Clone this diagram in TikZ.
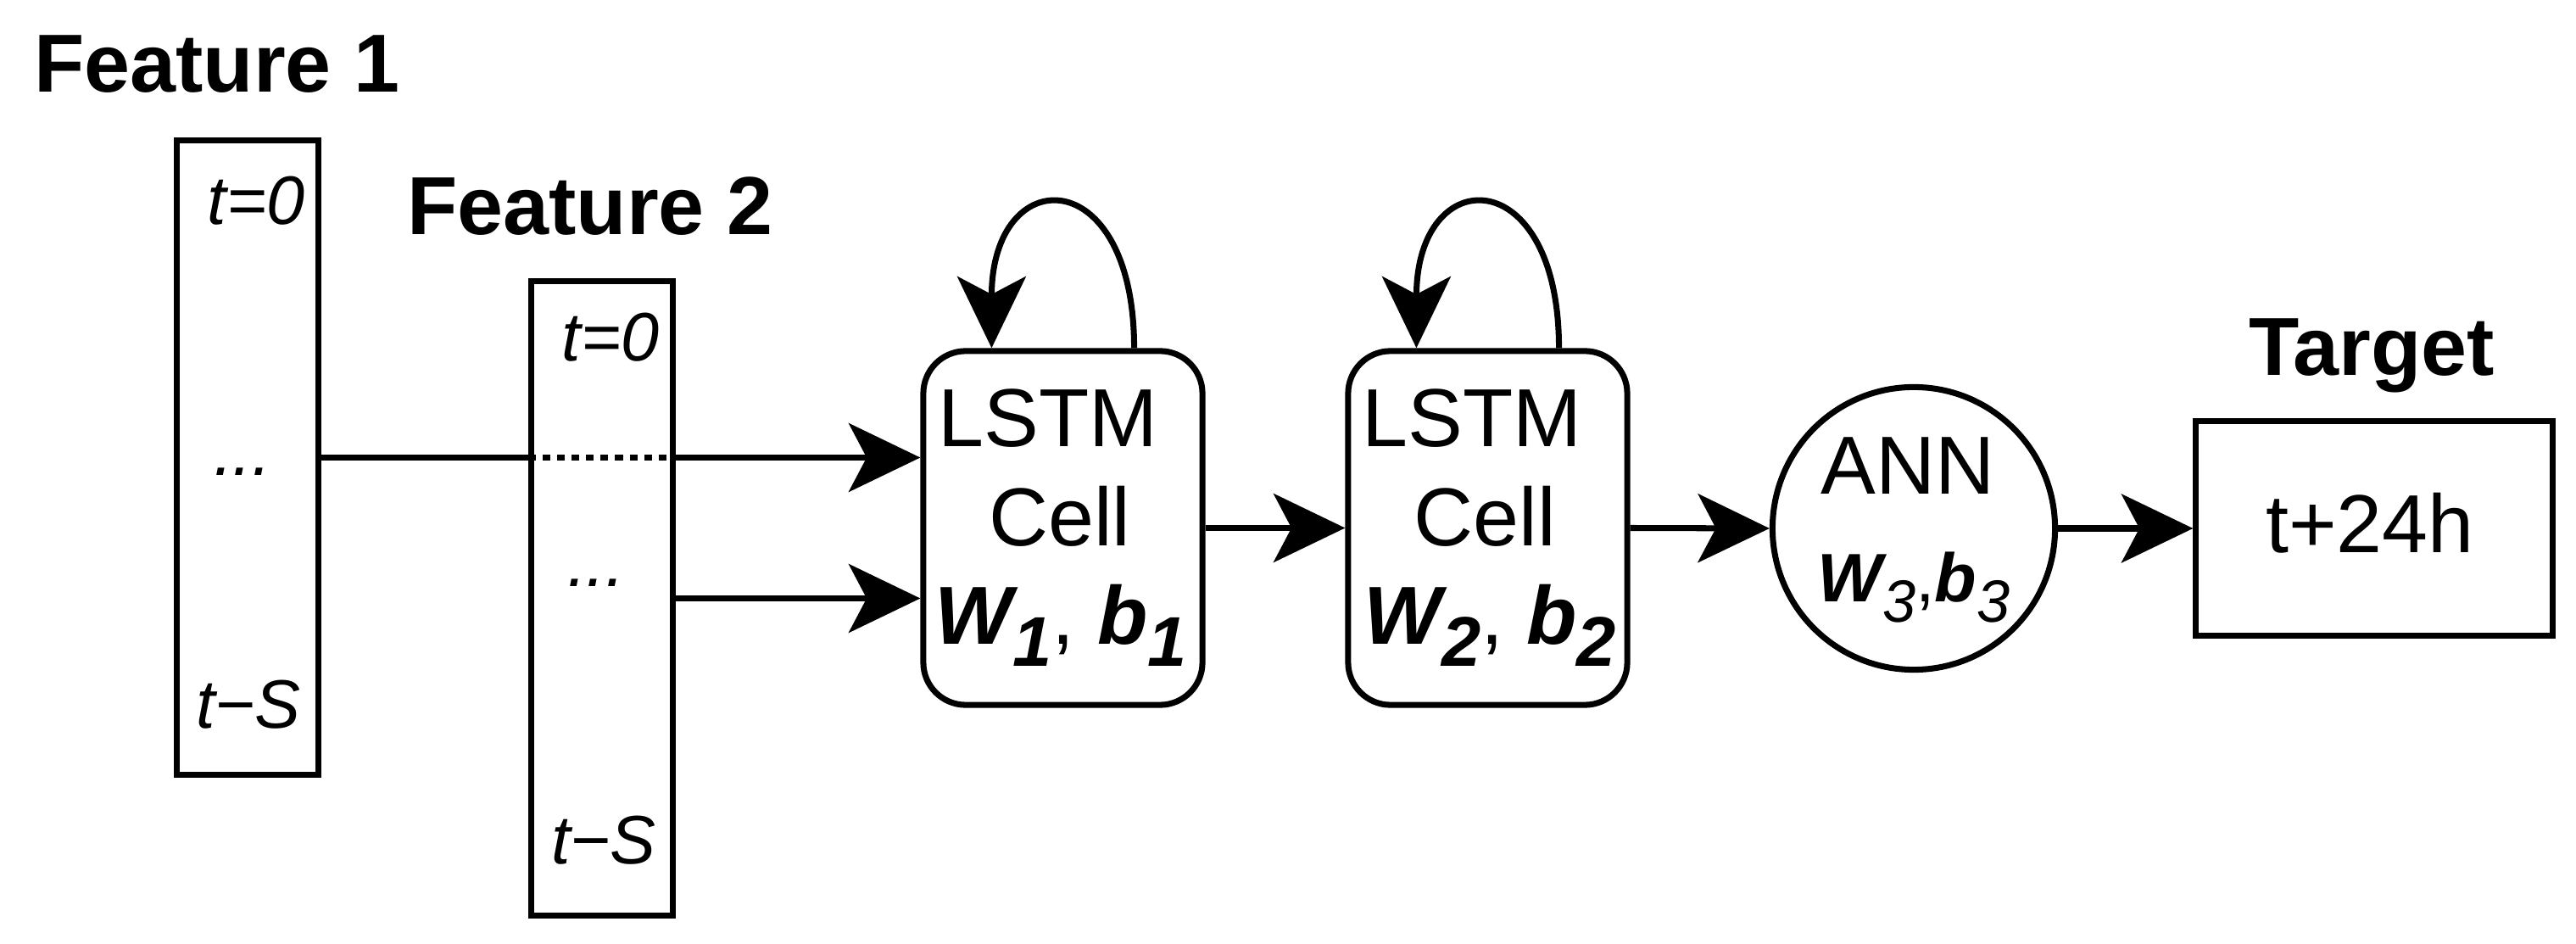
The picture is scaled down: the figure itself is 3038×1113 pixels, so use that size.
\documentclass[tikz,border=0pt]{standalone}
\usepackage{fontspec}
\setmainfont{Liberation Sans}
\usetikzlibrary{arrows.meta,calc}
\newcommand{\myfs}[1]{\fontsize{#1}{#1}\selectfont}
\newcommand{\wbl}[1]{{\bfseries\itshape W}\raisebox{-0.25cm}{\myfs{23.6pt}\bfseries\itshape #1}, {\bfseries\itshape b}\raisebox{-0.25cm}{\myfs{23.6pt}\bfseries\itshape #1}}
\begin{document}
\begin{tikzpicture}[x=0.01cm,y=-0.01cm,line width=2pt,
  fbox/.style={draw,inner sep=0,minimum width=1.66cm,minimum height=7.48cm},
  cellbox/.style={draw,rounded corners=0.5cm,inner sep=0,minimum width=3.29cm,minimum height=4.17cm},
  annbox/.style={draw,circle,inner sep=0,minimum size=3.33cm},
  tgbox/.style={draw,inner sep=0,minimum width=4.2cm,minimum height=2.52cm},
  txt/.style={inner sep=0,anchor=base},
  big/.style={txt,font=\myfs{27.6pt}},
  bigb/.style={txt,font=\myfs{27.6pt}\bfseries},
  small/.style={txt,font=\myfs{23pt}\itshape},
  arr/.style={-{Stealth[length=24pt,width=23pt,inset=6pt]}},
  dots/.style={dash pattern=on 0.09cm off 0.08cm}
]
\useasboundingbox (0,0) rectangle (3038,1113);
% boxes
\node[fbox] (f1) at (292,539.5) {};
\node[fbox] (f2) at (710,705.5) {};
\node[cellbox] (l1) at (1253.5,622.5) {};
\node[cellbox] (l2) at (1754.5,622.5) {};
\node[annbox] (ann) at (2257,623) {};
\node[tgbox] (tg) at (2800,623) {};
% titles
\node[bigb] (t1) at (256,109) {Feature 1};
\node[bigb] (t2) at (696,277) {Feature 2};
\node[bigb] (t3) at (2797,443) {Target};
% feature texts
\node[small] (f1a) at (302,265) {t=0};
\node[small] (f1b) at (286,561) {...};
\node[small] (f1c) at (293,859) {t−S};
\node[small] (f2a) at (720,426) {t=0};
\node[small] (f2b) at (703,692) {...};
\node[small] (f2c) at (712,1018) {t−S};
% lstm texts
\node[big] (l1a) at (1236,527) {LSTM};
\node[big] (l1b) at (1250,644) {Cell};
\node[big] (l1c) at (1251,760) {\wbl{1}};
\node[big] (l2a) at (1736,527) {LSTM};
\node[big] (l2b) at (1751,644) {Cell};
\node[big] (l2c) at (1757,760) {\wbl{2}};
% ann text
\node[big] (anna) at (2250,583) {ANN};
\node[txt,font=\myfs{23pt}] (annb) at (2257,710) {{\bfseries\itshape W}\raisebox{-0.23cm}{\myfs{20pt}\itshape 3},{\bfseries\itshape b}\raisebox{-0.23cm}{\myfs{20pt}\itshape 3}};
% target text
\node[big] (tga) at (2795,652) {t+24h};
% connectors
\coordinate (c1) at (f1.east -| f2.west);
\coordinate (c2) at (f1.east -| f2.east);
\draw (f1.east) -- (c1);
\draw[dots] (c1) -- (c2);
\draw[arr] (c2) -- (c2 -| l1.west);
\draw[arr] (f2.east) -- (f2.east -| l1.west);
\draw[arr] (l1.east) -- (l2.west);
\draw[arr] (l2.east) -- (ann.west);
\draw[arr] (ann.east) -- (tg.west);
% loops
\coordinate (l1r) at ($(l1.north west)!0.75!(l1.north east)$);
\coordinate (l1l) at ($(l1.north west)!0.25!(l1.north east)$);
\coordinate (l2r) at ($(l2.north west)!0.75!(l2.north east)$);
\coordinate (l2l) at ($(l2.north west)!0.25!(l2.north east)$);
\draw[arr] (l1r) .. controls +(0,-221) and +(0,-221) .. (l1l);
\draw[arr] (l2r) .. controls +(0,-221) and +(0,-221) .. (l2l);
\end{tikzpicture}
\end{document}
